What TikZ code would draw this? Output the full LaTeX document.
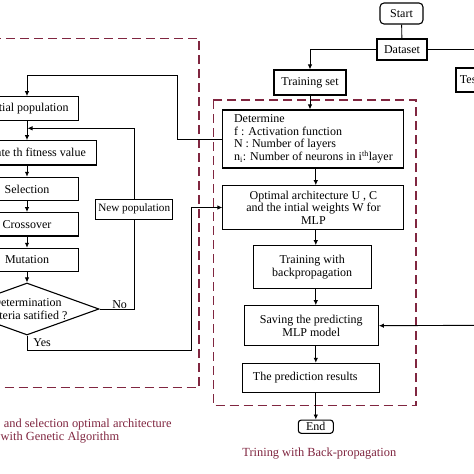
\documentclass[tikz,border=0pt]{standalone}
\usepackage{fontspec}
\setmainfont{Liberation Serif}
\usetikzlibrary{arrows.meta,shapes.geometric,calc}
\definecolor{framered}{RGB}{128,38,64}
\begin{document}
\begin{tikzpicture}[x=1pt,y=-1pt,
  box/.style={draw, line width=1.1pt, inner sep=0pt, font=\fontsize{12}{12.5}\selectfont},
  term/.style={box, rounded corners=4pt},
  conn/.style={line width=0.9pt},
  arr/.style={conn, -{Latex[length=5pt,width=4.5pt]}},
  region/.style={draw=framered, line width=1.2pt, dash pattern=on 9pt off 5pt},
  caption/.style={text=framered, font=\fontsize{12.4}{13}\selectfont, inner sep=0pt},
  lbl/.style={font=\fontsize{12}{12.5}\selectfont, inner sep=0pt}
]
\useasboundingbox (0,0) rectangle (474,474);
\clip (0,0) rectangle (474,474);
\fill[white] (0,0) rectangle (474,474);

% regions
\draw[region] (-10,38.3) rectangle (199,387.7);
\draw[region] (213.3,100) rectangle (416,405.7);

% right column
\node[term, minimum width=43, minimum height=21] (start) at (401.5,13.5) {Start};
\node[box, minimum width=50, minimum height=21] (data) at (402,49.5) {Dataset};
\node[box, minimum width=72, minimum height=25] (train) at (310,82.5) {Training set};
\node[box, minimum width=44, minimum height=24] (test) at (478,80) {Test set};
\node[box, minimum width=181, minimum height=58, align=left] (det) at (313.4,139)
  {Determine\\f : Activation function\\N : Number of layers\\n\textsubscript{i}: Number of neurons in i\textsuperscript{th}layer};
\node[box, minimum width=181, minimum height=43.6, align=center] (opt) at (313.4,207.5)
  {Optimal architecture U , C\\and the intial weights W for\\MLP};
\node[box, minimum width=118, minimum height=42.6, align=center] (tbp) at (312.2,267)
  {Training with\\backpropagation};
\node[box, minimum width=134, minimum height=40, align=center] (save) at (311.3,325.7)
  {Saving the predicting\\MLP model};
\node[box, minimum width=137, minimum height=29] (pred) at (311.3,377.8)
  {The prediction results\hspace*{12pt}};
\node[term, rounded corners=3pt, minimum width=35, minimum height=13.3] (end) at (315.8,426.7) {End};

% left column
\node[box, minimum width=102.6, minimum height=24] (init) at (27,108.7) {Initial population};
\node[box, minimum width=139.4, minimum height=24.3] (eval) at (27,152.8) {Evaluate th fitness value};
\node[box, minimum width=102.6, minimum height=23.4] (sel) at (27,189) {Selection};
\node[box, minimum width=102.6, minimum height=23.4] (cross) at (27,224.3) {Crossover};
\node[box, minimum width=102.6, minimum height=23.4] (mut) at (27,260) {Mutation};
\node[draw, diamond, line width=1.1pt, shape aspect=2.77, inner sep=0pt,
  minimum width=144, minimum height=52, align=center, font=\fontsize{12}{12.5}\selectfont]
  (dia) at (27,309) {Determination\\criteria satified ?};
\node[box, minimum width=77, minimum height=20.3, font=\fontsize{11.2}{12}\selectfont] (newp) at (134.2,209.2) {New population};

% connectors
\draw[conn] (start) -- (data);
\draw[arr] (data.west) -| (train.north);
\draw[arr] (data.east) -| (test.north);
\draw[arr] (train.south) -- (train.south |- det.north);
\coordinate (loopA) at (177,75);
\draw[arr] (det.west) -| (loopA) -| (init.north);
\draw[arr] (init) -- (eval);
\draw[arr] (eval) -- (sel);
\draw[arr] (sel) -- (cross);
\draw[arr] (cross) -- (mut);
\draw[arr] (mut) -- (dia);
\draw[conn] (dia.east) -| node[lbl, pos=0.29, above] {No} (newp.south);
\coordinate (fb) at (27.5,128.3);
\draw[arr] (newp.north) |- (fb);
\coordinate (yesA) at (191,350.7);
\draw[arr] (dia.south) |- node[lbl, pos=0.22, right, xshift=6pt] {Yes} (yesA) |- (opt.west);
\draw[arr] (det.south -| end) -- (opt.north -| end);
\draw[arr] (opt.south -| end) -- (tbp.north -| end);
\draw[arr] (tbp.south -| end) -- (save.north -| end);
\draw[arr] (save.south -| end) -- (pred.north -| end);
\draw[arr] (pred.south -| end) -- (end.north);
\coordinate (testin) at (480,325.3);
\draw[arr] (testin) -- (save.east);

% captions
\node[caption, anchor=east] (capL1) at (171.7,424.3) {and selection optimal architecture};
\node[caption, anchor=west] (capL2) at (0.5,437.3) {with Genetic Algorithm};
\node[caption] (capR) at (319.3,454) {Trining with Back-propagation};
\end{tikzpicture}
\end{document}
